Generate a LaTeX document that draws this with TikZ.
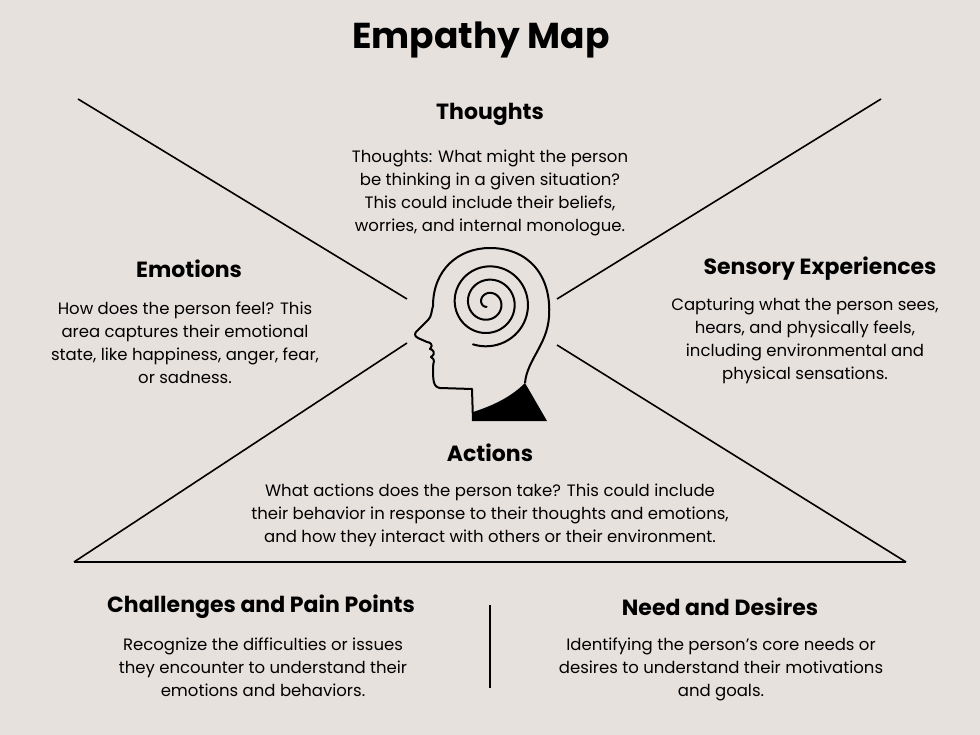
\documentclass[tikz,border=0pt]{standalone}
\usepackage{fontspec}
\setmainfont{Poppins}
\definecolor{bg}{HTML}{E7E1DE}
\begin{document}
\begin{tikzpicture}[x=1pt,y=-1pt,
  ln/.style={line width=1.6pt,black},
  hd/.style={font=\fontsize{22}{26}\selectfont\bfseries,anchor=center},
  bd/.style={font=\fontsize{16.5}{23}\selectfont,align=center,anchor=north}]
\fill[bg] (0,0) rectangle (980,735);
\useasboundingbox (0,0) rectangle (980,735);
\node[font=\fontsize{36}{40}\selectfont\bfseries] (title) at (481,40) {Empathy Map};
% lines
\coordinate (a1) at (78,99); \coordinate (a2) at (407,299);
\coordinate (b1) at (881,99); \coordinate (b2) at (557,299);
\coordinate (c1) at (407,343); \coordinate (c2) at (74,562);
\coordinate (d1) at (557,345); \coordinate (d2) at (906,562);
\coordinate (v1) at (490,605); \coordinate (v2) at (490,688);
\draw[ln] (a1)--(a2); \draw[ln] (b1)--(b2);
\draw[ln] (c1)--(c2); \draw[ln] (d1)--(d2); \draw[ln] (c2)--(d2);
\draw[ln] (v1)--(v2);
% head
\draw[line width=2pt,line join=round]
 (473,421) -- (472,389) -- (440,388) .. controls (433,387) and (433,380) .. (433,367)
 .. controls (433,362) and (436,360) .. (431,357) .. controls (437,353) and (432,349) .. (430,349)
 .. controls (434,345) and (430,342) .. (427,342) -- (418,338) .. controls (414,336) and (414,333) .. (418,330)
 -- (428,320) .. controls (432,316) and (431,312) .. (433,306)
 .. controls (433,270) and (458,248) .. (490,248) .. controls (528,248) and (552,275) .. (549,317)
 .. controls (547,345) and (527,360) .. (525,383);
\fill (473,421) -- (547,421) -- (525,383) .. controls (512,396) and (495,405) .. (473,412) -- cycle;
\begin{scope}[shift={(488,303)}]
\draw[line width=2pt,line cap=round] plot[domain=0:1080,samples=200,smooth]
 ({(4+\x/27)*cos(\x+110)},{(4+\x/27)*sin(\x+110)});
\end{scope}
% texts
\node[hd] (th) at (490,114) {Thoughts};
\node[bd] (thb) at (490,146) {Thoughts: What might the person\\be thinking in a given situation?\\This could include their beliefs,\\worries, and internal monologue.};
\node[hd] (em) at (189,269) {Emotions};
\node[bd] (emb) at (185,298) {How does the person feel? This\\area captures their emotional\\state, like happiness, anger, fear,\\or sadness.};
\node[hd] (se) at (820,269) {Sensory Experiences};
\node[bd] (seb) at (805,294) {Capturing what the person sees,\\hears, and physically feels,\\including environmental and\\physical sensations.};
\node[hd] (ac) at (490,453) {Actions};
\node[bd] (acb) at (490,480) {What actions does the person take? This could include\\their behavior in response to their thoughts and emotions,\\and how they interact with others or their environment.};
\node[hd] (ch) at (261,607) {Challenges and Pain Points};
\node[bd] (chb) at (263,634) {Recognize the difficulties or issues\\they encounter to understand their\\emotions and behaviors.};
\node[hd] (nd) at (720,607) {Need and Desires};
\node[bd] (ndb) at (721,634) {Identifying the person's core needs or\\desires to understand their motivations\\and goals.};
\end{tikzpicture}
\end{document}
